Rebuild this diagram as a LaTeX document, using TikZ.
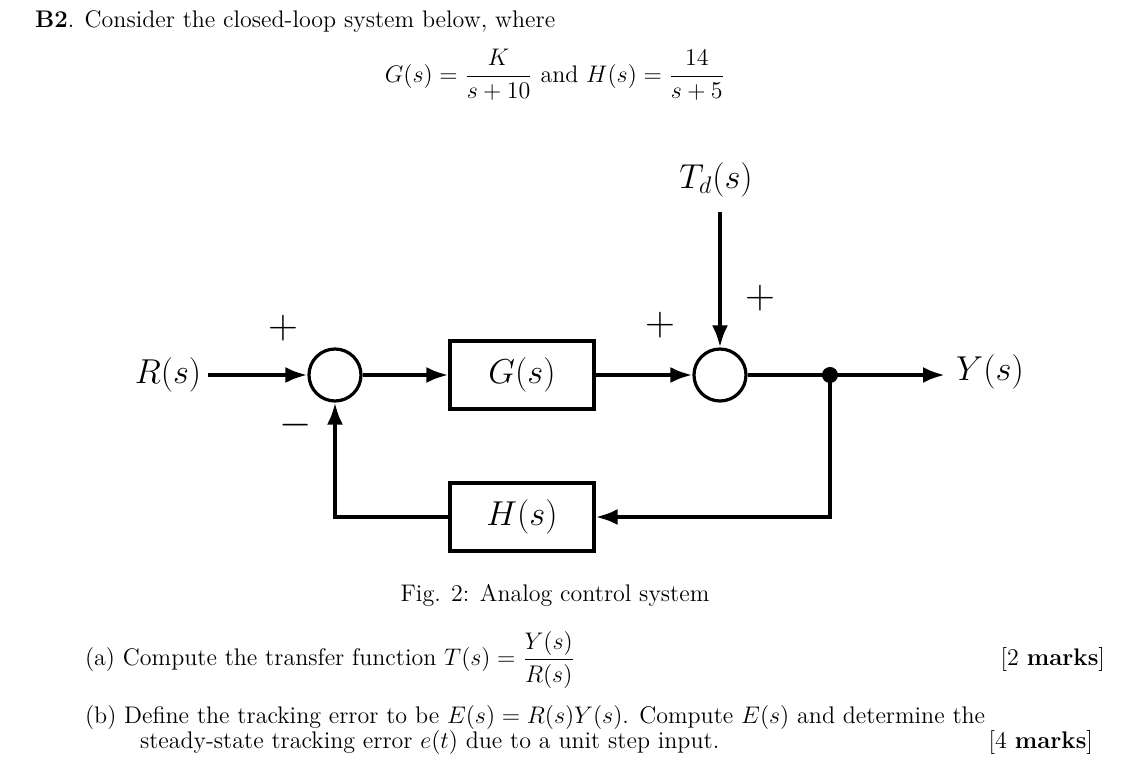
\documentclass[tikz,border=0pt]{standalone}
\usepackage{amsmath}
\usetikzlibrary{arrows.meta}
\begin{document}
\begin{tikzpicture}[x=0.5pt,y=-0.5pt,
  sig/.style={line width=2pt},
  arr/.style={sig,-{Latex[length=11pt,width=8pt]}},
  blk/.style={draw,line width=1.6pt,minimum width=72pt,minimum height=34pt,font=\LARGE},
  sumc/.style={draw,line width=1.6pt,circle,minimum size=26pt,inner sep=0pt},
  lab/.style={font=\LARGE},
  sgn/.style={font=\huge}]
\useasboundingbox (0,0) rectangle (1137,780);
\node[anchor=west,font=\large] (title) at (28,22) {\textbf{B2}. Consider the closed-loop system below, where};
\node[font=\large] (eq) at (555,75) {$G(s)=\dfrac{K}{s+10}$ and $H(s)=\dfrac{14}{s+5}$};
\node[sumc] (s1) at (335,375) {};
\node[sumc] (s2) at (720,375) {};
\node[blk] (G) at (522,375) {$G(s)$};
\node[blk] (H) at (522,517) {$H(s)$};
\node[lab] (R) at (168,375) {$R(s)$};
\node[lab] (Y) at (990,372) {$Y(s)$};
\node[lab] (Td) at (716,180) {$T_d(s)$};
\coordinate (br) at (830,375);
\coordinate (tdb) at (720,212);
\coordinate (ye) at (945,375);
\draw[arr] (R.east) -- (s1.west);
\draw[arr] (s1.east) -- (G.west);
\draw[arr] (G.east) -- (s2.west);
\draw[arr] (tdb) -- (s2.north);
\draw[arr] (s2.east) -- (ye);
\fill (br) circle (4pt);
\draw[arr] (br) |- (H.east);
\draw[arr] (H.west) -| (s1.south);
\node[sgn] (p1) at (283,328) {$+$};
\node[sgn] (m1) at (296,425) {$-$};
\node[sgn] (p2) at (660,325) {$+$};
\node[sgn] (p3) at (760,298) {$+$};
\node[font=\large] (cap) at (555,595) {Fig. 2: Analog control system};
\node[anchor=west,font=\large] (qa) at (78,660) {(a) Compute the transfer function $T(s)=\dfrac{Y(s)}{R(s)}$};
\node[anchor=east,font=\large] (ma) at (1112,660) {[2 \textbf{marks}]};
\node[anchor=west,font=\large] (qb) at (78,718) {(b) Define the tracking error to be $E(s)=R(s)Y(s)$. Compute $E(s)$ and determine the};
\node[anchor=west,font=\large] (qb2) at (133,743) {steady-state tracking error $e(t)$ due to a unit step input.};
\node[anchor=east,font=\large] (mb) at (1100,743) {[4 \textbf{marks}]};
\end{tikzpicture}
\end{document}
